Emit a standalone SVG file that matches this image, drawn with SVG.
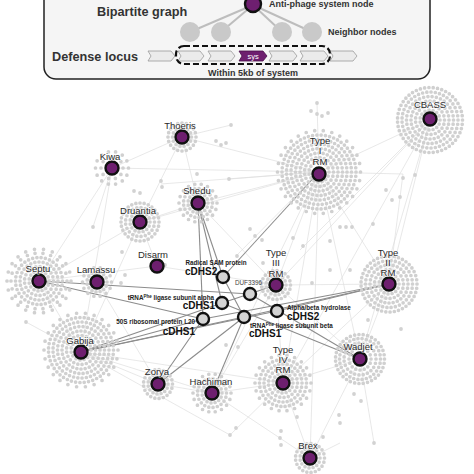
<svg xmlns="http://www.w3.org/2000/svg" width="474" height="474" viewBox="0 0 474 474">
<style>
text{font-family:"Liberation Sans",Arial,sans-serif}
.d{fill:none;stroke:#d0d0d0;stroke-width:3.7;stroke-linecap:round;stroke-dasharray:0 1}
.sys{fill:#6e1f6f;stroke:#111;stroke-width:2.4}
.nb{fill:#d4d4d4;stroke:#111;stroke-width:2.4}
.lb{font-size:9.5px;fill:#2a2a2a;text-anchor:middle;stroke:#fff;stroke-width:1.4;stroke-opacity:.6;paint-order:stroke}
.e{stroke:#8c8c8c;stroke-width:1.1;fill:none}
.f{stroke:#dedede;stroke-width:0.7;fill:none}
.sd{fill:#d2d2d2}
.sm{font-size:6.3px;font-weight:bold;fill:#222}
.bg{font-size:10px;font-weight:bold;fill:#111}
.gene{fill:#ebebeb;stroke:#9a9a9a;stroke-width:0.8}
.lg{font-weight:bold;fill:#333}
</style>

<g id="legend">
  <rect x="44" y="-20" width="386" height="99" rx="12" fill="#f5f5f5" stroke="#222" stroke-width="1.5"/>
  <text class="lg" x="97" y="16" font-size="12.7">Bipartite graph</text>
  <g stroke="#bdbdbd" stroke-width="2">
    <line x1="253" y1="5" x2="190" y2="32"/>
    <line x1="253" y1="5" x2="221" y2="32"/>
    <line x1="253" y1="5" x2="282" y2="32"/>
    <line x1="253" y1="5" x2="312" y2="32"/>
  </g>
  <g fill="#c9c9c9">
    <circle cx="190" cy="32" r="10"/>
    <circle cx="221" cy="32" r="10"/>
    <circle cx="282" cy="32" r="10"/>
    <circle cx="312" cy="32" r="10"/>
  </g>
  <circle class="sys" cx="253" cy="4" r="8"/>
  <text class="lg" x="269" y="7" font-size="9">Anti-phage system node</text>
  <text class="lg" x="328" y="35" font-size="9">Neighbor nodes</text>
  <text class="lg" x="52" y="61" font-size="12.7">Defense locus</text>
  <polygon class="gene" points="148,51 171,51 175,56 171,61 148,61 151,56"/>
  <polygon class="gene" points="178,51 200,51 204,56 200,61 178,61 181,56"/>
  <polygon class="gene" points="208,51 231,51 235,56 231,61 208,61 211,56"/>
  <polygon points="239,51 263,51 267,56 263,61 239,61 242,56" fill="#6e1f6f" stroke="#4a104a" stroke-width="0.8"/>
  <text x="253" y="59" font-size="7.5" fill="#fff" text-anchor="middle">sys</text>
  <polygon class="gene" points="269,51 293,51 297,56 293,61 269,61 272,56"/>
  <polygon class="gene" points="300,51 324,51 328,56 324,61 300,61 303,56"/>
  <polygon class="gene" points="330,51 353,51 357,56 353,61 330,61 333,56"/>
  <rect x="176" y="46" width="154" height="18" rx="8" fill="none" stroke="#111" stroke-width="2.2" stroke-dasharray="6 3"/>
  <text class="lg" x="253" y="76" font-size="9" text-anchor="middle">Within 5kb of system</text>
</g>

<g id="connectors">
  <g id="faint">
    <line class="f" x1="319" y1="172" x2="230" y2="179"/>
    <line class="f" x1="319" y1="172" x2="161" y2="184"/>
    <line class="f" x1="319" y1="172" x2="237" y2="255"/>
    <line class="f" x1="319" y1="172" x2="276" y2="285"/>
    <line class="f" x1="319" y1="172" x2="389" y2="284"/>
    <line class="f" x1="319" y1="172" x2="360" y2="359"/>
    <line class="f" x1="319" y1="172" x2="283" y2="383"/>
    <line class="f" x1="319" y1="172" x2="310" y2="458"/>
    <line class="f" x1="319" y1="172" x2="198" y2="203"/>
    <line class="f" x1="319" y1="172" x2="140" y2="222"/>
    <line class="f" x1="319" y1="172" x2="112" y2="168"/>
    <line class="f" x1="319" y1="172" x2="182" y2="137"/>
    <line class="f" x1="319" y1="172" x2="403" y2="174"/>
    <line class="f" x1="319" y1="172" x2="317" y2="103"/>
    <line class="f" x1="319" y1="172" x2="430" y2="120"/>
    <line class="f" x1="319" y1="172" x2="212" y2="393"/>
    <line class="f" x1="430" y1="120" x2="360" y2="359"/>
    <line class="f" x1="430" y1="120" x2="389" y2="284"/>
    <line class="f" x1="430" y1="120" x2="300" y2="250"/>
    <line class="f" x1="430" y1="120" x2="276" y2="285"/>
    <line class="f" x1="430" y1="120" x2="283" y2="383"/>
    <line class="f" x1="81" y1="352" x2="39" y2="281"/>
    <line class="f" x1="81" y1="352" x2="158" y2="384"/>
    <line class="f" x1="81" y1="352" x2="212" y2="393"/>
    <line class="f" x1="81" y1="352" x2="140" y2="222"/>
    <line class="f" x1="81" y1="352" x2="26" y2="322"/>
    <line class="f" x1="81" y1="352" x2="230" y2="435"/>
    <line class="f" x1="81" y1="352" x2="112" y2="168"/>
    <line class="f" x1="81" y1="352" x2="283" y2="383"/>
    <line class="f" x1="39" y1="281" x2="140" y2="222"/>
    <line class="f" x1="39" y1="281" x2="112" y2="168"/>
    <line class="f" x1="39" y1="281" x2="157" y2="266"/>
    <line class="f" x1="283" y1="383" x2="310" y2="458"/>
    <line class="f" x1="283" y1="383" x2="212" y2="393"/>
    <line class="f" x1="283" y1="383" x2="360" y2="359"/>
    <line class="f" x1="283" y1="383" x2="389" y2="284"/>
    <line class="f" x1="283" y1="383" x2="230" y2="435"/>
    <line class="f" x1="283" y1="383" x2="276" y2="285"/>
    <line class="f" x1="360" y1="359" x2="389" y2="284"/>
    <line class="f" x1="360" y1="359" x2="310" y2="458"/>
    <line class="f" x1="360" y1="359" x2="374" y2="443"/>
    <line class="f" x1="360" y1="359" x2="276" y2="285"/>
    <line class="f" x1="310" y1="458" x2="212" y2="393"/>
    <line class="f" x1="310" y1="458" x2="340" y2="443"/>
    <line class="f" x1="212" y1="393" x2="158" y2="384"/>
    <line class="f" x1="212" y1="393" x2="276" y2="285"/>
    <line class="f" x1="140" y1="222" x2="182" y2="137"/>
    <line class="f" x1="140" y1="222" x2="198" y2="203"/>
    <line class="f" x1="140" y1="222" x2="157" y2="266"/>
    <line class="f" x1="112" y1="168" x2="182" y2="137"/>
    <line class="f" x1="112" y1="168" x2="93" y2="227"/>
    <line class="f" x1="182" y1="137" x2="231" y2="125"/>
    <line class="f" x1="182" y1="137" x2="198" y2="203"/>
    <line class="f" x1="198" y1="203" x2="276" y2="285"/>
    <line class="f" x1="389" y1="284" x2="276" y2="285"/>
    <line class="f" x1="389" y1="284" x2="403" y2="174"/>
    <line class="f" x1="157" y1="266" x2="276" y2="285"/>
    <line class="f" x1="97" y1="282" x2="158" y2="384"/>
  </g>
  <g id="edges">
    <line class="e" x1="39" y1="281" x2="250" y2="294"/>
    <line class="e" x1="39" y1="281" x2="203" y2="319"/>
    <line class="e" x1="198" y1="203" x2="203" y2="319"/>
    <line class="e" x1="198" y1="203" x2="223" y2="277"/>
    <line class="e" x1="198" y1="203" x2="222" y2="303"/>
    <line class="e" x1="319" y1="172" x2="223" y2="277"/>
    <line class="e" x1="81" y1="352" x2="203" y2="319"/>
    <line class="e" x1="81" y1="352" x2="222" y2="303"/>
    <line class="e" x1="81" y1="352" x2="244" y2="317"/>
    <line class="e" x1="81" y1="352" x2="277" y2="311"/>
    <line class="e" x1="158" y1="384" x2="203" y2="319"/>
    <line class="e" x1="158" y1="384" x2="244" y2="317"/>
    <line class="e" x1="212" y1="393" x2="244" y2="317"/>
    <line class="e" x1="389" y1="284" x2="277" y2="311"/>
    <line class="e" x1="389" y1="284" x2="244" y2="317"/>
    <line class="e" x1="389" y1="284" x2="203" y2="319"/>
    <line class="e" x1="360" y1="359" x2="250" y2="294"/>
    <line class="e" x1="360" y1="359" x2="222" y2="303"/>
    <line class="e" x1="223" y1="277" x2="244" y2="317"/>
    <line class="e" x1="276" y1="285" x2="222" y2="303"/>
  </g>
</g>

<g id="scatter">
  <circle class="sd" cx="317" cy="103" r="1.9"/><circle class="sd" cx="311" cy="111" r="1.9"/><circle class="sd" cx="317" cy="114" r="1.9"/>
  <circle class="sd" cx="322" cy="116" r="1.9"/><circle class="sd" cx="328" cy="113" r="1.9"/>
  <circle class="sd" cx="403" cy="178" r="1.9"/><circle class="sd" cx="415" cy="175" r="1.9"/>
  <circle class="sd" cx="386" cy="190" r="1.9"/><circle class="sd" cx="392" cy="200" r="1.9"/><circle class="sd" cx="400" cy="197" r="1.9"/>
  <circle class="sd" cx="373" cy="224" r="1.9"/><circle class="sd" cx="340" cy="227" r="1.9"/><circle class="sd" cx="346" cy="227" r="1.9"/><circle class="sd" cx="352" cy="227" r="1.9"/>
  <circle class="sd" cx="330" cy="241" r="1.9"/><circle class="sd" cx="303" cy="246" r="1.9"/><circle class="sd" cx="293" cy="238" r="1.9"/>
  <circle class="sd" cx="231" cy="125" r="1.9"/><circle class="sd" cx="216" cy="141" r="1.9"/><circle class="sd" cx="221" cy="145" r="1.9"/><circle class="sd" cx="226" cy="143" r="1.9"/>
  <circle class="sd" cx="197" cy="174" r="1.9"/><circle class="sd" cx="161" cy="181" r="1.9"/><circle class="sd" cx="162" cy="187" r="1.9"/>
  <circle class="sd" cx="134" cy="191" r="1.9"/><circle class="sd" cx="140" cy="193" r="1.9"/><circle class="sd" cx="93" cy="227" r="1.9"/>
  <circle class="sd" cx="229" cy="179" r="1.9"/><circle class="sd" cx="122" cy="252" r="1.9"/><circle class="sd" cx="237" cy="256" r="1.9"/>
  <circle class="sd" cx="250" cy="229" r="1.9"/><circle class="sd" cx="255" cy="236" r="1.9"/><circle class="sd" cx="262" cy="240" r="1.9"/>
  <circle class="sd" cx="26" cy="322" r="1.9"/><circle class="sd" cx="230" cy="435" r="1.9"/><circle class="sd" cx="236" cy="428" r="1.9"/>
  <circle class="sd" cx="330" cy="270" r="1.9"/><circle class="sd" cx="350" cy="270" r="1.9"/><circle class="sd" cx="312" cy="283" r="1.9"/>
  <circle class="sd" cx="368" cy="320" r="1.9"/><circle class="sd" cx="401" cy="329" r="1.9"/>
  <circle class="sd" cx="354" cy="394" r="1.9"/><circle class="sd" cx="361" cy="401" r="1.9"/><circle class="sd" cx="339" cy="415" r="1.9"/>
  <circle class="sd" cx="340" cy="423" r="1.9"/><circle class="sd" cx="374" cy="443" r="1.9"/>
  <circle class="sd" cx="281" cy="431" r="1.9"/><circle class="sd" cx="280" cy="438" r="1.9"/><circle class="sd" cx="281" cy="445" r="1.9"/>
  <circle class="sd" cx="323" cy="437" r="1.9"/><circle class="sd" cx="297" cy="417" r="1.9"/>
  <circle class="sd" cx="165" cy="265" r="1.9"/><circle class="sd" cx="125" cy="275" r="1.9"/><circle class="sd" cx="121" cy="283" r="1.9"/>
  <circle class="sd" cx="238" cy="347" r="1.9"/><circle class="sd" cx="226" cy="345" r="1.9"/><circle class="sd" cx="263" cy="263" r="1.9"/>
</g>

<g id="n-cbass">
  <circle class="d" cx="430" cy="120" r="10" pathLength="15"/>
  <circle class="d" cx="430" cy="120" r="14.5" pathLength="21"/>
  <circle class="d" cx="430" cy="120" r="19" pathLength="28"/>
  <circle class="d" cx="430" cy="120" r="23.5" pathLength="34"/>
  <circle class="d" cx="430" cy="120" r="28" pathLength="41"/>
  <circle class="d" cx="430" cy="120" r="32.5" pathLength="47"/>
  <circle class="sys" cx="430" cy="119" r="6.5"/>
  <text class="lb" x="430" y="108">CBASS</text>
</g>

<g id="n-type1">
  <circle class="d" cx="319" cy="172" r="10" pathLength="15"/>
  <circle class="d" cx="319" cy="172" r="14.5" pathLength="21"/>
  <circle class="d" cx="319" cy="172" r="19" pathLength="28"/>
  <circle class="d" cx="319" cy="172" r="23.5" pathLength="34"/>
  <circle class="d" cx="319" cy="172" r="28" pathLength="41"/>
  <circle class="d" cx="319" cy="172" r="32.5" pathLength="47"/>
  <circle class="d" cx="319" cy="172" r="37" pathLength="54"/>
  <circle class="d" cx="319" cy="172" r="41.5" pathLength="30"/>
  <circle class="sys" cx="319" cy="174" r="6.5"/>
  <text class="lb" x="320" y="143.5">Type</text>
  <text class="lb" x="320" y="154">I</text>
  <text class="lb" x="320" y="164.5">RM</text>
</g>

<g id="n-thoeris">
  <circle class="d" cx="182" cy="137" r="9.5" pathLength="14"/>
  <circle class="d" cx="182" cy="137" r="14" pathLength="20"/>
  <circle class="sys" cx="182" cy="137" r="6.5"/>
  <text class="lb" x="180" y="128.5">Thoeris</text>
</g>

<g id="n-kiwa">
  <circle class="d" cx="112" cy="168" r="11" pathLength="10"/>
  <circle class="d" cx="112" cy="168" r="16.5" pathLength="14"/>
  <circle class="sys" cx="112" cy="168" r="6.5"/>
  <text class="lb" x="110" y="159.5">Kiwa</text>
</g>

<g id="n-shedu">
  <circle class="d" cx="198" cy="203" r="10" pathLength="15"/>
  <circle class="d" cx="198" cy="203" r="14.5" pathLength="21"/>
  <circle class="d" cx="198" cy="203" r="19" pathLength="18"/>
  <circle class="sys" cx="198" cy="203" r="6.5"/>
  <text class="lb" x="197" y="193.5">Shedu</text>
</g>

<g id="n-druantia">
  <circle class="d" cx="140" cy="222" r="10" pathLength="15"/>
  <circle class="d" cx="140" cy="222" r="14.5" pathLength="21"/>
  <circle class="d" cx="140" cy="222" r="19" pathLength="28"/>
  <circle class="sys" cx="140" cy="222" r="6.5"/>
  <text class="lb" x="138" y="213.5">Druantia</text>
</g>

<g id="n-disarm">
  <circle class="sys" cx="157" cy="266" r="6.5"/>
  <text class="lb" x="153" y="257.5">Disarm</text>
</g>

<g id="n-septu">
  <circle class="d" cx="39" cy="281" r="10" pathLength="15"/>
  <circle class="d" cx="39" cy="281" r="14.5" pathLength="21"/>
  <circle class="d" cx="39" cy="281" r="19" pathLength="28"/>
  <circle class="d" cx="39" cy="281" r="23.5" pathLength="34"/>
  <circle class="d" cx="39" cy="281" r="28" pathLength="22"/>
  <circle class="d" cx="39" cy="281" r="32" pathLength="22"/>
  <circle class="sys" cx="39" cy="281" r="6.5"/>
  <text class="lb" x="38" y="271.5">Septu</text>
</g>

<g id="n-lamassu">
  <circle class="d" cx="97" cy="282" r="10" pathLength="15"/>
  <circle class="d" cx="97" cy="282" r="14.5" pathLength="14"/>
  <circle class="sys" cx="97" cy="282" r="6.5"/>
  <text class="lb" x="96" y="272.5">Lamassu</text>
</g>

<g id="n-gabija">
  <circle class="d" cx="81" cy="350" r="10" pathLength="15"/>
  <circle class="d" cx="81" cy="350" r="14.5" pathLength="21"/>
  <circle class="d" cx="81" cy="350" r="19" pathLength="28"/>
  <circle class="d" cx="81" cy="350" r="23.5" pathLength="34"/>
  <circle class="d" cx="81" cy="350" r="28" pathLength="41"/>
  <circle class="d" cx="81" cy="350" r="32.5" pathLength="47"/>
  <circle class="d" cx="81" cy="350" r="37" pathLength="26"/>
  <circle class="sys" cx="81" cy="352" r="6.5"/>
  <text class="lb" x="80" y="343.5">Gabija</text>
</g>

<g id="n-zorya">
  <circle class="d" cx="158" cy="384" r="10" pathLength="15"/>
  <circle class="d" cx="158" cy="384" r="14.5" pathLength="21"/>
  <circle class="sys" cx="158" cy="384" r="6.5"/>
  <text class="lb" x="157" y="374.5">Zorya</text>
</g>

<g id="n-hachiman">
  <circle class="d" cx="212" cy="393" r="10" pathLength="15"/>
  <circle class="d" cx="212" cy="393" r="14.5" pathLength="21"/>
  <circle class="d" cx="212" cy="393" r="19" pathLength="18"/>
  <circle class="sys" cx="212" cy="393" r="6.5"/>
  <text class="lb" x="211" y="384.5">Hachiman</text>
</g>

<g id="n-type3">
  <circle class="d" cx="276" cy="285" r="10" pathLength="15"/>
  <circle class="d" cx="276" cy="285" r="14.5" pathLength="21"/>
  <circle class="sys" cx="276" cy="285" r="6.5"/>
  <text class="lb" x="276" y="255.5">Type</text>
  <text class="lb" x="276" y="266">III</text>
  <text class="lb" x="276" y="276.5">RM</text>
</g>

<g id="n-type2">
  <circle class="d" cx="389" cy="284" r="10" pathLength="15"/>
  <circle class="d" cx="389" cy="284" r="14.5" pathLength="21"/>
  <circle class="d" cx="389" cy="284" r="19" pathLength="28"/>
  <circle class="d" cx="389" cy="284" r="23.5" pathLength="34"/>
  <circle class="d" cx="389" cy="284" r="28" pathLength="41"/>
  <circle class="sys" cx="389" cy="284" r="6.5"/>
  <text class="lb" x="388" y="255.5">Type</text>
  <text class="lb" x="388" y="265.5">II</text>
  <text class="lb" x="388" y="275.5">RM</text>
</g>

<g id="n-wadjet">
  <circle class="d" cx="360" cy="359" r="11" pathLength="16"/>
  <circle class="d" cx="360" cy="359" r="16" pathLength="23"/>
  <circle class="d" cx="360" cy="359" r="20.5" pathLength="30"/>
  <circle class="d" cx="360" cy="359" r="24.5" pathLength="35"/>
  <circle class="sys" cx="360" cy="359" r="6.5"/>
  <text class="lb" x="358" y="350">Wadjet</text>
</g>

<g id="n-type4">
  <circle class="d" cx="283" cy="383" r="10" pathLength="15"/>
  <circle class="d" cx="283" cy="383" r="14.5" pathLength="21"/>
  <circle class="d" cx="283" cy="383" r="19" pathLength="28"/>
  <circle class="d" cx="283" cy="383" r="23.5" pathLength="34"/>
  <circle class="d" cx="283" cy="383" r="28" pathLength="22"/>
  <circle class="sys" cx="283" cy="383" r="6.5"/>
  <text class="lb" x="283" y="352.5">Type</text>
  <text class="lb" x="283" y="362.5">IV</text>
  <text class="lb" x="283" y="372.5">RM</text>
</g>

<g id="n-brex">
  <circle class="d" cx="310" cy="458" r="10" pathLength="15"/>
  <circle class="d" cx="310" cy="458" r="14.5" pathLength="21"/>
  <circle class="sys" cx="310" cy="458" r="6.5"/>
  <text class="lb" x="308" y="449">Brex</text>
</g>

<g id="n-cdhs2-radical">
  <circle class="nb" cx="223" cy="277" r="6"/>
  <text class="sm" x="216" y="264.5" text-anchor="middle">Radical SAM protein</text>
  <text class="bg" x="185" y="274.5">cDHS2</text>
</g>

<g id="n-duf3396">
  <circle class="nb" cx="250" cy="294" r="6"/>
  <text x="235" y="285" font-size="6.3" fill="#444">DUF3396</text>
</g>

<g id="n-cdhs1-alpha">
  <circle class="nb" cx="222" cy="303" r="6"/>
  <text class="sm" x="214" y="299.5" text-anchor="end">tRNA<tspan font-size="4.5" baseline-shift="super">Phe</tspan> ligase subunit alpha</text>
  <text class="bg" x="215" y="308.5" text-anchor="end">cDHS1</text>
</g>

<g id="n-cdhs1-l20">
  <circle class="nb" cx="203" cy="319" r="6"/>
  <text class="sm" x="195" y="323.5" text-anchor="end">50S ribosomal protein L20</text>
  <text class="bg" x="195" y="334.5" text-anchor="end">cDHS1</text>
</g>

<g id="n-cdhs1-beta">
  <circle class="nb" cx="244" cy="317" r="6"/>
  <text class="sm" x="250" y="327.5">tRNA<tspan font-size="4.5" baseline-shift="super">Phe</tspan> ligase subunit beta</text>
  <text class="bg" x="249" y="336.5">cDHS1</text>
</g>

<g id="n-cdhs2-hydrolase">
  <circle class="nb" cx="277" cy="311" r="6"/>
  <text class="sm" x="287" y="310">Alpha/beta hydrolase</text>
  <text class="bg" x="287" y="319.5">cDHS2</text>
</g>
</svg>
